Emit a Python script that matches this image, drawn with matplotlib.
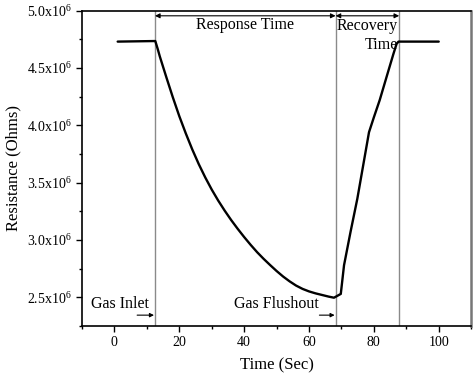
import matplotlib
matplotlib.use("Agg")
import matplotlib.pyplot as plt
from matplotlib.ticker import MultipleLocator, FixedLocator, FixedFormatter

plt.rcParams['font.family'] = ['Liberation Serif', 'DejaVu Serif']
plt.rcParams['mathtext.fontset'] = 'custom'
plt.rcParams['mathtext.rm'] = 'Liberation Serif'
plt.rcParams['mathtext.it'] = 'Liberation Serif'

# Data (time in s, resistance in 1e6 Ohms)
time = [1, 12.6, 13.3, 14.0, 16.0, 18.0, 20.0, 22.0, 24.0, 26.0, 28.0, 30.0,
        32.0, 34.0, 36.0, 38.0, 40.0, 42.0, 44.0, 46.0, 48.0, 50.0, 52.0,
        54.0, 56.0, 58.0, 60.0, 62.0, 64.0, 66.0, 67.7, 69.8, 70.8, 72.8,
        74.9, 76.7, 78.5, 80.0, 81.8, 84.0, 86.0, 87.0, 87.6, 100]
resistance = [4.73, 4.735, 4.67, 4.60, 4.42, 4.245, 4.08, 3.93, 3.79, 3.662, 3.546, 3.44,
              3.344, 3.256, 3.174, 3.098, 3.026, 2.958, 2.894, 2.836, 2.782, 2.730, 2.682,
              2.640, 2.603, 2.574, 2.552, 2.535, 2.521, 2.507, 2.497, 2.53, 2.78, 3.07,
              3.36, 3.65, 3.94, 4.07, 4.22, 4.43, 4.62, 4.71, 4.73, 4.73]

markers_t = [12.5, 68.2, 87.8]   # gas inlet, gas flushout, recovery end
y_ticks = [2.5, 3.0, 3.5, 4.0, 4.5, 5.0]
y_tick_labels = [r'2.5x10$^6$', r'3.0x10$^6$', r'3.5x10$^6$',
                 r'4.0x10$^6$', r'4.5x10$^6$', r'5.0x10$^6$']
x_ticks = [0, 20, 40, 60, 80, 100]

fig = plt.figure(figsize=(4.74, 3.80), dpi=100)
ax = fig.add_axes([0.173, 0.142, 0.821, 0.830])

for t in markers_t:
    ax.axvline(t, color='#8a8a8a', lw=1.0, zorder=1)

ax.plot(time, resistance, color='black', lw=1.7, zorder=3,
        solid_joinstyle='round', solid_capstyle='round')

ax.set_xlim(-10, 110)
ax.set_ylim(2.25, 5.0)
ax.xaxis.set_major_locator(FixedLocator(x_ticks))
ax.xaxis.set_minor_locator(MultipleLocator(10))
ax.yaxis.set_major_locator(FixedLocator(y_ticks))
ax.yaxis.set_major_formatter(FixedFormatter(y_tick_labels))
ax.yaxis.set_minor_locator(MultipleLocator(0.25))
ax.tick_params(which='major', direction='out', length=4, width=1.0, labelsize=10)
ax.tick_params(which='minor', direction='out', length=2.5, width=1.0)
ax.tick_params(top=False, right=False)
for s in ['left', 'bottom', 'top']:
    ax.spines[s].set_linewidth(1.2)
ax.spines['right'].set_color('#777777')
ax.spines['right'].set_linewidth(1.8)

ax.set_xlabel('Time (Sec)', fontsize=12, labelpad=6)
ax.set_ylabel('Resistance (Ohms)', fontsize=12, labelpad=4)

arr = dict(arrowstyle='<|-|>', color='black', lw=0.8, mutation_scale=7, shrinkA=0, shrinkB=0)
ax.annotate('', xy=(markers_t[0], 4.955), xytext=(markers_t[1], 4.955), arrowprops=arr)
ax.annotate('', xy=(markers_t[1], 4.955), xytext=(markers_t[2], 4.955), arrowprops=arr)
ax.text(40.3, 4.875, 'Response Time', ha='center', va='center', fontsize=11.5)
ax.text(87.3, 4.862, 'Recovery', ha='right', va='center', fontsize=11.5)
ax.text(87.3, 4.70, 'Time', ha='right', va='center', fontsize=11.5)

sarr = dict(arrowstyle='-|>', color='black', lw=0.8, mutation_scale=6, shrinkA=0, shrinkB=0)
ax.annotate('', xy=(12.2, 2.345), xytext=(7.0, 2.345), arrowprops=sarr)
ax.annotate('', xy=(67.9, 2.345), xytext=(63.2, 2.345), arrowprops=sarr)
ax.text(1.7, 2.445, 'Gas Inlet', ha='center', va='center', fontsize=11.5)
ax.text(50.0, 2.445, 'Gas Flushout', ha='center', va='center', fontsize=11.5)

fig.savefig('out.png', dpi=100)
